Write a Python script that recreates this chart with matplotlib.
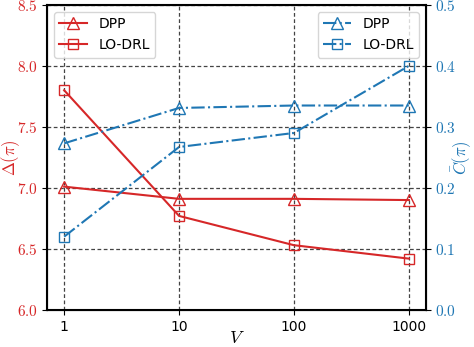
import matplotlib
matplotlib.use("Agg")
import matplotlib.pyplot as plt
from matplotlib.ticker import FuncFormatter, FixedLocator, NullLocator

plt.rcParams['mathtext.fontset'] = 'cm'

V = [1, 10, 100, 1000]
# lijeva os: Delta(pi)
delta_dpp = [7.01, 6.91, 6.91, 6.90]
delta_lodrl = [7.80, 6.77, 6.53, 6.42]
# desna os: C(pi)
c_dpp = [0.273, 0.331, 0.335, 0.335]
c_lodrl = [0.120, 0.267, 0.290, 0.400]
x_ticks = [1, 10, 100, 1000]
x_labels = ['1', '10', '100', '1000']

crvena = '#d62728'
plava = '#1f77b4'

fig = plt.figure(figsize=(4.74, 3.47), dpi=100)
ax = fig.add_axes([0.099, 0.107, 0.800, 0.879])
ax.set_xscale('log')

ax.plot(V, delta_dpp, color=crvena, marker='^', markersize=8, markerfacecolor='none', label='DPP')
ax.plot(V, delta_lodrl, color=crvena, marker='s', markersize=7, markerfacecolor='none', label='LO-DRL')
ax.set_ylim(6.0, 8.5)
ax.set_yticks([6.0, 6.5, 7.0, 7.5, 8.0, 8.5])
ax.yaxis.set_major_formatter(FuncFormatter(lambda v, p: r'$%.1f$' % v))
ax.tick_params(axis='y', colors=crvena, labelsize=11, pad=3)
ax.tick_params(axis='y', color='black')
ax.set_ylabel(r'$\Delta(\pi)$', color=crvena, fontsize=12, labelpad=-4)
ax.xaxis.set_major_locator(FixedLocator(x_ticks))
ax.xaxis.set_minor_locator(NullLocator())
ax.set_xticklabels(x_labels)
ax.tick_params(axis='x', labelsize=10)
ax.set_xlabel(r'$V$', fontsize=13, labelpad=-3)
ax.grid(True, linestyle=(0, (3, 2)), color='#444444', linewidth=0.9)
ax.legend(loc='upper left', fontsize=10)

ax2 = ax.twinx()
ax2.plot(V, c_dpp, color=plava, linestyle='-.', marker='^', markersize=8, markerfacecolor='none', label='DPP')
ax2.plot(V, c_lodrl, color=plava, linestyle='-.', marker='s', markersize=7, markerfacecolor='none', label='LO-DRL')
ax2.set_ylim(0.0, 0.5)
ax2.set_yticks([0.0, 0.1, 0.2, 0.3, 0.4, 0.5])
ax2.yaxis.set_major_formatter(FuncFormatter(lambda v, p: r'$%.1f$' % v))
ax2.tick_params(axis='y', colors=plava, labelsize=11, pad=3)
ax2.tick_params(axis='y', color='black')
ax2.set_ylabel(r'$\bar{C}(\pi)$', color=plava, fontsize=12, labelpad=-5)
ax2.legend(loc='upper right', fontsize=10)

for s in ax2.spines.values():
    s.set_linewidth(1.5)

fig.savefig('out.png', dpi=100)
